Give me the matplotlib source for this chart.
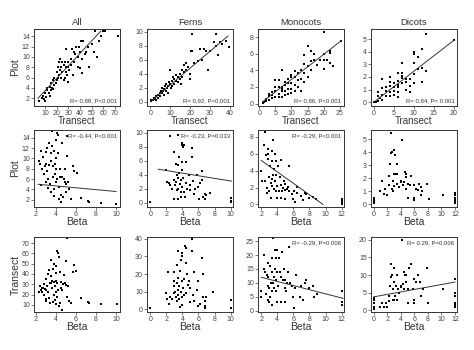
import matplotlib
matplotlib.use("Agg")
import matplotlib.pyplot as plt

plt.rcParams['font.family'] = ['Liberation Sans', 'DejaVu Sans']

# ---- row 1: Plot vs Transect ----
all_tr = [5, 7, 8, 9, 10, 10, 11, 12, 12, 13, 14, 14, 15, 15, 16, 17, 17, 18, 18, 19, 20, 20, 21, 21, 22, 22, 23, 23,
          24, 24, 25, 25, 26, 26, 27, 27, 28, 28, 28, 29, 30, 30, 30, 31, 32, 32, 33, 34, 35, 35, 36, 37, 38, 38, 39,
          40, 40, 41, 42, 42, 43, 44, 45, 47, 48, 50, 52, 53, 55, 56, 58, 60, 62, 73]
all_pl = [1.5, 2, 2.5, 1.8, 1.5, 3, 2.2, 3.5, 4, 3, 4.2, 2.5, 3.5, 5, 4, 3.8, 5.5, 4.5, 6, 5, 5.5, 7, 6, 8, 6.5, 9, 7.5,
          9.5, 8, 6, 9, 7, 8.5, 5.5, 6, 9, 7, 8, 11.5, 6.5, 8, 9, 5.2, 7.5, 9.5, 8.5, 11.5, 6.5, 9, 11, 10.5, 12, 8, 10,
          12, 11, 7.8, 13, 9.5, 6.8, 13, 10.5, 11, 12, 8, 12.5, 11, 15, 10, 13, 14, 15, 15, 14]

fern_tr = [0.3, 0.5, 1, 1.5, 2, 2.5, 3, 3, 4, 4, 5, 5, 5.5, 6, 6, 6.5, 7, 7, 7.5, 8, 8, 8.5, 9, 9, 9.5, 10, 10, 10.5,
           11, 11, 11.5, 12, 12, 13, 13, 14, 14, 15, 15, 15.5, 16, 16, 17, 17, 18, 18, 19, 20, 20, 20.5, 21, 21, 22,
           24, 25, 26, 27, 28, 29, 30, 32, 33, 33, 34, 35, 36, 38, 39.5]
fern_pl = [0.1, 0.2, 0.3, 0.2, 0.5, 0.4, 0.8, 0.3, 1, 0.6, 1.2, 0.8, 1.5, 1.2, 2, 1.6, 1.8, 1, 2.2, 1.5, 2.5, 2, 2.3,
           1.2, 2.8, 2.5, 4.6, 2, 3, 2.2, 3.5, 3.2, 2.5, 3, 3.8, 3.5, 2.8, 4, 3.2, 2.6, 4.5, 3.5, 5.3, 4.2, 5.5, 4.5, 5,
           4, 3.2, 7.2, 7.2, 9.7, 5.5, 5.8, 7.5, 6, 7.6, 7.3, 4.6, 7.3, 8.5, 8, 9.7, 6.7, 8.5, 8.2, 8.7, 7.8]

mono_tr = [1, 1.5, 2, 2, 3, 3, 3, 4, 4, 4, 5, 5, 5, 5, 6, 6, 6, 6, 7, 7, 7, 7, 7, 8, 8, 8, 8, 9, 9, 9, 9, 10, 10, 10,
           10, 10, 11, 11, 11, 11, 12, 12, 12, 13, 13, 13, 14, 14, 14, 14, 15, 15, 15, 16, 16, 16, 17, 17, 18, 19, 20,
           20, 20, 20, 21, 22, 22, 22, 23, 25.5]
mono_pl = [0.1, 0.2, 0.3, 0.6, 0.4, 0.9, 1.2, 0.7, 1, 1.4, 0.8, 1.5, 2, 2.9, 0.8, 1.2, 2, 2.9, 0.8, 1.5, 2, 1.7, 4, 1,
           1.5, 2.2, 2.6, 1.2, 1.7, 2.5, 3, 1.3, 1.8, 2.5, 3.2, 3.5, 1.5, 2.2, 3.2, 3.9, 2, 2.8, 3.7, 1.5, 3, 4, 2.6,
           3.7, 4.8, 5.8, 3.2, 4.5, 7, 4, 5.1, 6.3, 5.2, 6, 4.7, 5.2, 4.2, 6, 5.2, 8.6, 5.2, 4.9, 6.3, 6.1, 4.5, 7.5]

dico_tr = [0, 0.5, 1, 1, 1, 1.5, 2, 2, 2, 2, 3, 3, 3, 4, 4, 4, 4, 4, 5, 5, 5, 5, 6, 6, 6, 6, 6, 6, 7, 7, 7, 7, 7, 8,
           8, 8, 9, 9, 9, 10, 10, 10, 10, 10, 11, 11, 12, 12, 12, 13, 13, 20]
dico_pl = [0, 0.05, 0.1, 0.5, 0.8, 0.3, 0.2, 0.6, 1.1, 1.8, 0.5, 0.9, 1.2, 0.5, 0.8, 1.3, 1.6, 2, 0.6, 0.9, 1.2, 1.5,
           0.4, 0.8, 1.2, 1.4, 1.7, 2.3, 1.5, 1.9, 2.1, 2.3, 3.1, 1, 1.6, 1.8, 0.8, 1.3, 1.8, 1.5, 2.2, 3.1, 3.8, 4,
           2.6, 3.6, 1.6, 2.7, 4.2, 2.5, 5.4, 4.9]

# ---- row 2: Plot vs Beta ----
all_beta = [2.3, 2.4, 2.5, 2.6, 2.7, 2.8, 2.9, 3, 3, 3, 3.1, 3.1, 3.2, 3.3, 3.3, 3.4, 3.5, 3.5, 3.5, 3.6, 3.6, 3.7,
            3.7, 3.8, 3.8, 3.9, 3.9, 4, 4, 4, 4, 4.1, 4.1, 4.2, 4.2, 4.3, 4.3, 4.4, 4.4, 4.5, 4.6, 4.6, 4.7, 4.8, 4.9,
            4.9, 5, 5, 5.1, 5.1, 5.2, 5.3, 5.7, 5.8, 6.1, 6.5, 7.2, 7.3, 8.5, 10, 2.5, 3.2, 3.8, 4.5, 5.5]
all_pl_b = [9.5, 9, 11.5, 8, 10.3, 7, 8.5, 11.2, 9, 5.5, 12, 7.5, 6, 13, 8.8, 5, 9.5, 11, 3.5, 15.3, 12.5, 8.5, 6.5,
            11.5, 4, 7, 9, 13.5, 10, 8, 5.5, 6, 15, 11, 14.5, 2.2, 4.5, 8, 6.5, 1.5, 13, 6.5, 2.5, 6, 5.5, 8, 3.5, 5,
            14.3, 10.5, 5.5, 4, 8.5, 7.5, 7.2, 2.4, 1.7, 1.5, 1.3, 1.2, 4.9, 4.2, 2.8, 3, 2.2]

fern_beta = [0, 2, 2.1, 2.3, 2.5, 2.5, 2.7, 2.9, 3, 3, 3.1, 3.2, 3.2, 3.3, 3.3, 3.4, 3.4, 3.5, 3.5, 3.5, 3.6, 3.6,
             3.7, 3.8, 3.8, 3.9, 3.9, 4, 4, 4, 4.1, 4.1, 4.2, 4.2, 4.3, 4.4, 4.5, 4.6, 4.8, 4.9, 5, 5.2, 5.2, 5.3,
             5.4, 5.6, 5.8, 6, 6.1, 6.2, 6.5, 6.5, 6.6, 6.8, 6.8, 7, 7.5, 10, 10, 10, 3, 3.8]
fern_pl_b = [0.1, 4.7, 3, 2.8, 2.5, 9.6, 2, 7.2, 7.3, 3.3, 2.5, 5.5, 3, 1.8, 4, 9.7, 5.4, 0.6, 2, 3.6, 6.6, 4.3, 2.7,
             1.5, 3.2, 8.5, 4.7, 8.3, 5.9, 2.3, 8, 3.5, 8.3, 1.5, 0.8, 2.9, 5.8, 2, 4, 2.5, 1.8, 7.8, 6.5, 3.1, 1.2, 2,
             4, 2.2, 0.5, 2.8, 4.6, 3.2, 0.9, 1.2, 0.6, 1.1, 1.4, 0.3, 0.7, 0.1, 0.5, 0.9]

mono_beta = [2, 2.1, 2.3, 2.5, 2.5, 2.6, 2.7, 2.7, 2.8, 2.9, 2.9, 3, 3, 3.1, 3.2, 3.2, 3.3, 3.3, 3.4, 3.4, 3.5, 3.5,
             3.6, 3.6, 3.7, 3.7, 3.8, 3.8, 3.9, 4, 4, 4.1, 4.2, 4.3, 4.4, 4.5, 4.5, 4.6, 4.8, 4.9, 5, 5, 5.2, 5.4, 5.5,
             5.8, 6, 6.1, 6.2, 6.5, 7, 7.2, 7.4, 7.6, 8, 8.4, 8.8, 12, 12, 12, 12, 4.7, 5.3, 6.4]
mono_pl_b = [3.9, 2.8, 7, 8.6, 2.8, 5.8, 2, 1.3, 6, 6.5, 5.4, 3.3, 1.6, 4.5, 2.5, 0.8, 3, 5.1, 6.3, 2.2, 7.6, 3.5,
             1.8, 4.2, 6, 2.8, 5.1, 1.6, 3.5, 2.2, 0.8, 4.6, 1.6, 3.2, 5.3, 2.3, 0.8, 1.6, 2.8, 1.7, 2.4, 0.7, 1.8, 4.5,
             1.6, 1.2, 0.7, 1.6, 0.3, 1.4, 1, 0.5, 1.4, 1.2, 0.8, 0.9, 0.7, 0.3, 0.5, 0.7, 0.1, 2, 2.1, 2.1]

dico_beta = [0, 0, 0, 0, 1, 1.2, 1.5, 1.7, 2, 2.2, 2.3, 2.4, 2.5, 2.6, 2.7, 2.7, 2.8, 2.9, 3, 3, 3, 3.1, 3.2, 3.4,
             3.5, 3.5, 3.8, 4, 4, 4.2, 4.3, 4.4, 4.6, 4.7, 4.8, 4.8, 5, 5, 5.3, 5.5, 6, 6, 6, 6.2, 6.5, 6.7, 7, 7,
             7.2, 7.8, 8.2, 10.3, 12, 12, 12, 12, 12, 12]
dico_pl_b = [0.1, 0.3, 0.5, 0.2, 1, 1.8, 0.8, 1.2, 0.7, 2.2, 1.5, 3.1, 3.9, 5.5, 1.2, 4, 1.8, 1, 4.2, 2.3, 1.4, 3.8,
             2.3, 1.6, 3.1, 2.3, 1.3, 1.7, 1.8, 4.9, 1.5, 1.7, 2.5, 2.1, 1.2, 2.3, 1.6, 0.5, 1.5, 2.2, 1.5, 0.5, 0.3,
             1.2, 1.1, 1.6, 0.7, 1.3, 1, 1.6, 0.4, 0.7, 0.3, 0.5, 0.7, 0.9, 0.1, 0.2]

# ---- row 3: Transect vs Beta ----
all_beta3 = [2.3, 2.4, 2.5, 2.6, 2.7, 2.8, 2.8, 2.9, 3, 3, 3, 3, 3.1, 3.2, 3.2, 3.3, 3.3, 3.4, 3.4, 3.5, 3.5, 3.6,
             3.6, 3.7, 3.7, 3.8, 3.8, 3.8, 3.9, 3.9, 4, 4, 4, 4, 4, 4.1, 4.1, 4.1, 4.2, 4.2, 4.3, 4.3, 4.4, 4.4, 4.5,
             4.5, 4.6, 4.7, 4.8, 4.9, 5, 5, 5.1, 5.1, 5.2, 5.3, 5.5, 5.7, 5.8, 6, 6.5, 7.2, 7.3, 8.5, 10.1, 3.5, 4.6,
             2.6]
all_tr3 = [22, 28, 24, 22, 26, 30, 20, 25, 24, 14, 16, 35, 28, 22, 40, 17, 44, 12, 31, 54, 38, 33, 26, 45, 13, 50,
           32, 20, 28, 15, 41, 33, 48, 22, 11, 62, 31, 18, 60, 24, 57, 9, 42, 12, 26, 32, 5, 30, 39, 31, 29, 53, 75,
           18, 28, 14, 12, 42, 49, 43, 17, 13, 12, 11, 11, 31, 24, 26]

fern_beta3 = [0, 2, 2.1, 2.2, 2.3, 2.5, 2.7, 2.9, 3, 3, 3, 3.1, 3.2, 3.3, 3.3, 3.3, 3.4, 3.4, 3.5, 3.5, 3.6, 3.7, 3.7,
              3.8, 3.8, 3.9, 3.9, 4, 4, 4, 4.1, 4.2, 4.3, 4.4, 4.5, 4.5, 4.6, 4.7, 4.8, 4.9, 5, 5.2, 5.2, 5.3, 5.5,
              5.8, 6, 6, 6.2, 6.5, 6.6, 6.6, 6.8, 6.8, 6.8, 7, 7.8, 10, 10, 3.6, 4.2, 5.5]
fern_tr3 = [0.5, 9.5, 6, 21, 3, 7, 6, 9, 13, 16, 21, 10, 7, 25, 15, 5, 33, 11, 18, 8, 13, 1.5, 22, 10, 28, 30, 16, 7,
            32, 2.5, 12, 17, 36, 35, 26, 9, 20, 14, 16, 4, 12, 40, 33, 8, 21, 11, 16, 2, 3, 29, 20, 7, 5, 2, 0.5, 7,
            10, 5.5, 1, 6, 8, 5]

mono_beta3 = [2, 2, 2.3, 2.4, 2.5, 2.6, 2.7, 2.8, 2.8, 2.9, 3, 3, 3.1, 3.1, 3.2, 3.3, 3.3, 3.4, 3.4, 3.5, 3.5, 3.6,
              3.6, 3.7, 3.7, 3.8, 3.9, 3.9, 4, 4, 4, 4.1, 4.2, 4.3, 4.5, 4.6, 4.7, 4.8, 4.9, 5, 5, 5.1, 5.3, 5.4, 5.6,
              5.8, 6, 6.1, 6.2, 6.3, 6.8, 7, 7.2, 7.4, 7.6, 8, 8.4, 8.6, 9, 12, 12, 12, 2.9, 4.4, 5.2]
mono_tr3 = [5, 7, 15, 20, 14, 6, 13, 17, 4, 12, 8, 3, 5, 16, 10, 7, 2, 14, 19, 10, 26, 8, 12, 22, 15, 19, 7, 11, 14,
            22, 3, 9, 19, 14, 3, 21, 11, 15, 8, 3, 11, 7, 14, 23, 10, 9, 5, 1, 8, 13, 5, 9, 4, 10, 11, 8, 9, 5, 6, 2,
            3, 7, 9, 12, 10]

dico_beta3 = [0, 0, 0, 0, 0, 1, 1.2, 1.5, 1.8, 2, 2.2, 2.3, 2.4, 2.5, 2.5, 2.7, 2.8, 2.9, 3, 3, 3, 3.2, 3.3, 3.4,
              3.5, 3.6, 3.8, 4, 4, 4.2, 4.3, 4.4, 4.5, 4.6, 4.7, 4.8, 5, 5, 5.2, 5.5, 5.8, 6, 6, 6, 6.3, 6.6, 6.8, 7,
              7.3, 7.8, 8, 10.3, 12, 12, 12, 12, 12, 12]
dico_tr3 = [0.3, 1, 2, 3, 3.5, 1, 2, 1, 2, 1, 2.5, 4, 7, 9.5, 13, 10, 3, 6, 12, 3, 8, 4, 7, 10, 3, 6, 5, 7, 6.5, 20,
            7.5, 6, 11, 10, 8, 10, 2, 6, 12, 13, 6, 9, 3, 2, 8, 10, 8, 4, 6, 12, 2, 6, 1, 2, 4, 5, 9, 1.5]

# fitted lines as drawn in the figure (x ends, y ends); None where no line
fit_x = [[4, 58], [0, 39], [1, 25.5], [0, 20],
         [2.2, 10], [1, 10.1], [2, 9.7], None,
         None, None, [2, 12.2], [0, 12]]
fit_y = [[2, 15], [0, 9.4], [0.2, 7.6], [0, 4.9],
         [5.0, 3.6], [4.8, 3.1], [5.2, 0], None,
         None, None, [12.0, 4.4], [3.8, 8.0]]

stats = ["R= 0.88, P<0.001", "R= 0.92, P<0.001", "R= 0.86, P<0.001", "R= 0.84, P< 0.001",
         "R= -0.44, P<0.001", "R= -0.23, P=0.033", "R= -0.29, P<0.001", "",
         "", "", "R= -0.29, P=0.006", "R= 0.29, P=0.006"]

titles = ["All", "Ferns", "Monocots", "Dicots"]

xs = [all_tr, fern_tr, mono_tr, dico_tr,
      all_beta, fern_beta, mono_beta, dico_beta,
      all_beta3, fern_beta3, mono_beta3, dico_beta3]
ys = [all_pl, fern_pl, mono_pl, dico_pl,
      all_pl_b, fern_pl_b, mono_pl_b, dico_pl_b,
      all_tr3, fern_tr3, mono_tr3, dico_tr3]

xlims = [(0.5, 74.5), (-1.7, 41.5), (-0.4, 26.3), (-0.7, 20.8),
         (1.8, 10.4), (-0.4, 10.3), (1.6, 12.3), (-0.4, 12.3),
         (1.8, 10.4), (-0.4, 10.3), (1.6, 12.3), (-0.4, 12.3)]
ylims = [(0.5, 15.4), (-0.6, 10.4), (-0.3, 9.0), (-0.3, 5.8),
         (0.6, 15.5), (-0.6, 10.4), (-0.3, 8.8), (-0.2, 5.7),
         (3, 76), (-1.5, 41), (-0.5, 26.5), (-0.5, 20.8)]
xticks = [range(10, 80, 10), range(0, 50, 10), range(0, 30, 5), range(0, 25, 5),
          range(2, 12, 2), range(0, 12, 2), range(2, 14, 2), range(0, 14, 2),
          range(2, 12, 2), range(0, 12, 2), range(2, 14, 2), range(0, 14, 2)]
yticks = [range(2, 16, 2), range(0, 12, 2), range(0, 10, 2), range(0, 6, 1),
          range(2, 16, 2), range(0, 12, 2), range(0, 10, 2), range(0, 6, 1),
          range(10, 80, 10), range(0, 50, 10), range(0, 30, 5), range(0, 25, 5)]

W, H = 474, 350
fig = plt.figure(figsize=(W / 100, H / 100), dpi=100)

lefts = [34, 147, 258, 371]
tops = [29, 130, 237]
bottoms = [106, 207, 312]
aw = 86

for i in range(12):
    r, c = divmod(i, 4)
    ax = fig.add_axes([lefts[c] / W, 1 - bottoms[r] / H, aw / W, (bottoms[r] - tops[r]) / H])
    ax.plot(xs[i], ys[i], 's', color='black', markersize=1.9, markeredgewidth=0)
    if fit_x[i] is not None:
        ax.plot(fit_x[i], fit_y[i], color='#333333', linewidth=0.7)
    ax.set_xlim(xlims[i])
    ax.set_ylim(ylims[i])
    ax.set_xticks(list(xticks[i]))
    ax.set_yticks(list(yticks[i]))
    ax.tick_params(labelsize=5, length=2, width=0.5, pad=1, colors='#444444')
    for s in ax.spines.values():
        s.set_linewidth(0.7)
        s.set_color('#333333')
    if stats[i]:
        if r == 0:
            ax.text(0.97, 0.04, stats[i], transform=ax.transAxes, ha='right', va='bottom',
                    fontsize=4.3, color='#333333')
        else:
            ax.text(0.97, 0.96, stats[i], transform=ax.transAxes, ha='right', va='top',
                    fontsize=4.3, color='#333333')
    if r == 0:
        ax.set_title(titles[c], fontsize=6.8, pad=3, color='#333333')
        ax.set_xlabel("Transect", fontsize=7, labelpad=-1, color='#333333')
    else:
        ax.set_xlabel("Beta", fontsize=7.5, labelpad=-1, color='#333333')
    if c == 0:
        ax.set_ylabel("Transect" if r == 2 else "Plot", fontsize=7.5, labelpad=1, color='#333333')

fig.savefig("out.png", dpi=100)
